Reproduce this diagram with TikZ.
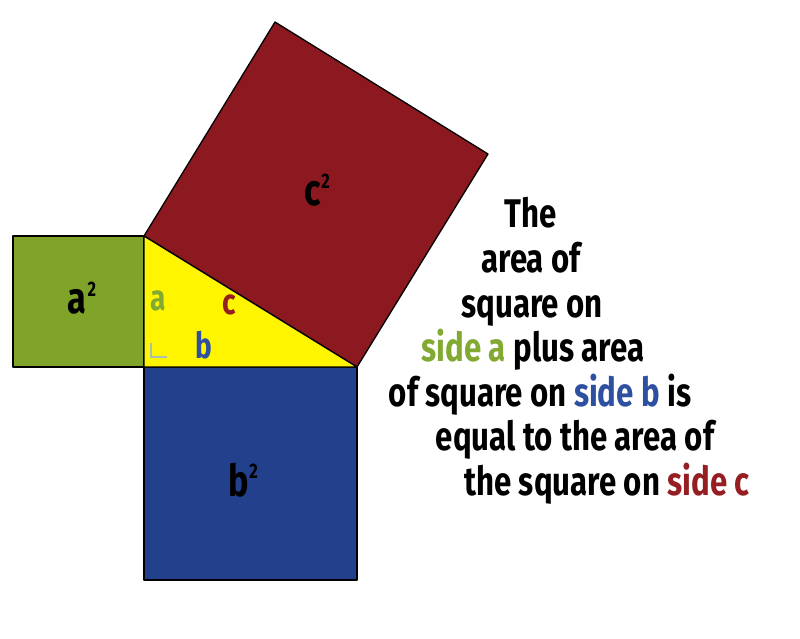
\documentclass[tikz,border=0pt]{standalone}
\usepackage{fontspec}
\usepackage{graphicx}
\setmainfont{Fira Sans}
\definecolor{sqgreen}{RGB}{128,163,41}
\definecolor{sqred}{RGB}{140,25,32}
\definecolor{sqblue}{RGB}{35,64,140}
\definecolor{triyel}{RGB}{255,245,0}
\definecolor{txtgreen}{RGB}{130,170,50}
\definecolor{txtblue}{RGB}{45,80,160}
\definecolor{txtred}{RGB}{150,30,35}
\definecolor{anglegrey}{RGB}{170,190,180}
\newcommand{\narrow}[1]{\scalebox{0.78}[1]{#1}}
\newcommand{\sqrd}[1]{\narrow{#1\kern1pt\raisebox{0.4em}{\fontsize{21}{21}\selectfont 2}}}
\tikzset{
  sq/.style={draw=black,line width=1.3pt,line join=round},
  sqlbl/.style={font=\bfseries\fontsize{44}{44}\selectfont,text=black},
  sidelbl/.style={font=\bfseries\fontsize{36}{36}\selectfont},
  line/.style={font=\bfseries\fontsize{40}{40}\selectfont,anchor=base,inner sep=0pt}
}
\begin{document}
\begin{tikzpicture}[x=1pt,y=-1pt]
	\useasboundingbox (0,0) rectangle (800,639);
	\coordinate (A) at (144,236);
	\coordinate (C) at (144,367);
	\coordinate (B) at (357,367);
	% squares on the three sides
	\filldraw[sq,fill=sqgreen] (13,236) rectangle (C);
	\filldraw[sq,fill=sqblue] (C) rectangle (357,580);
	\filldraw[sq,fill=sqred] (A) -- (B) -- (488,154) -- (275,22) -- cycle;
	\filldraw[sq,fill=triyel] (A) -- (B) -- (C) -- cycle;
	\draw[anglegrey,line width=1.5pt] (151,343) -- (151,357) -- (167,357);
	\node[sqlbl] (asq) at (82,298) {\sqrd{a}};
	\node[sqlbl] (bsq) at (243,480) {\sqrd{b}};
	\node[sqlbl] (csq) at (317,190) {\sqrd{c}};
	\node[sidelbl,text=txtgreen] (sa) at (158,301) {\narrow{a}};
	\node[sidelbl,text=txtred] (sc) at (229,305) {\narrow{c}};
	\node[sidelbl,text=txtblue] (sb) at (204,345) {\narrow{b}};
	% the text
	\node[line] (l1) at (531,227) {\narrow{The}};
	\node[line] (l2) at (531,272) {\narrow{area of}};
	\node[line] (l3) at (532,317) {\narrow{square on}};
	\node[line] (l4) at (533,361) {\narrow{\textcolor{txtgreen}{side a} plus area}};
	\node[line] (l5) at (540,406) {\narrow{of square on \textcolor{txtblue}{side b} is}};
	\node[line] (l6) at (575,450) {\narrow{equal to the area of}};
	\node[line] (l7) at (607,495) {\narrow{the square on \textcolor{txtred}{side c}}};
\end{tikzpicture}
\end{document}
